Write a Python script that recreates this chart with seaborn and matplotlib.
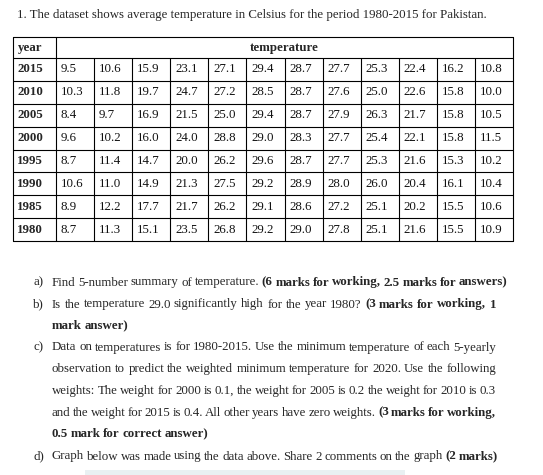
import matplotlib
matplotlib.use("Agg")
import matplotlib.pyplot as plt
import seaborn as sns
import numpy as np
import pandas as pd

years = [2015, 2010, 2005, 2000, 1995, 1990, 1985, 1980]
t2015 = [9.5, 10.6, 15.9, 23.1, 27.1, 29.4, 28.7, 27.7, 25.3, 22.4, 16.2, 10.8]
t2010 = [10.3, 11.8, 19.7, 24.7, 27.2, 28.5, 28.7, 27.6, 25.0, 22.6, 15.8, 10.0]
t2005 = [8.4, 9.7, 16.9, 21.5, 25.0, 29.4, 28.7, 27.9, 26.3, 21.7, 15.8, 10.5]
t2000 = [9.6, 10.2, 16.0, 24.0, 28.8, 29.0, 28.3, 27.7, 25.4, 22.1, 15.8, 11.5]
t1995 = [8.7, 11.4, 14.7, 20.0, 26.2, 29.6, 28.7, 27.7, 25.3, 21.6, 15.3, 10.2]
t1990 = [10.6, 11.0, 14.9, 21.3, 27.5, 29.2, 28.9, 28.0, 26.0, 20.4, 16.1, 10.4]
t1985 = [8.9, 12.2, 17.7, 21.7, 26.2, 29.1, 28.6, 27.2, 25.1, 20.2, 15.5, 10.6]
t1980 = [8.7, 11.3, 15.1, 23.5, 26.8, 29.2, 29.0, 27.8, 25.1, 21.6, 15.5, 10.9]

sns.set_theme(style="white")
plt.rcParams['font.family'] = ['Liberation Serif', 'DejaVu Serif']

W, H = 543, 475
fig = plt.figure(figsize=(W / 100, H / 100), dpi=100)
FS = 9.3

def fx(x): return x / W
def fy(y): return 1 - y / H

data = np.array([t2015, t2010, t2005, t2000, t1995, t1990, t1985, t1980])
df = pd.DataFrame(data, index=years)

tl, tr, tt, hb, tb, yc = 13, 513, 37, 58, 241, 56
ax = fig.add_axes([fx(yc), fy(tb), fx(tr - yc), (tb - hb) / H])
sns.heatmap(df, ax=ax, cmap=sns.color_palette(["white"]), cbar=False,
            linewidths=0, annot=False)
ax.set_xticks([]); ax.set_yticks([]); ax.set_xlabel(""); ax.set_ylabel("")
nr, nc = data.shape
for i in range(1, nr):
    ax.axhline(i, color="black", lw=0.8)
for j in range(1, nc):
    ax.axvline(j, color="black", lw=0.8)
for s in ax.spines.values():
    s.set_visible(False)
for i in range(nr):
    for j in range(nc):
        ax.text(j + 0.13, i + 0.5, f"{data[i, j]:.1f}", ha="left", va="center",
                fontsize=FS, color="#111")

lines = [
    ((tl, tr), (tt, tt)), ((tl, tr), (hb, hb)), ((tl, tl), (tt, tb)),
    ((tr, tr), (tt, tb)), ((yc, yc), (tt, tb)), ((tl, tr), (tb, tb)),
]
rh = (tb - hb) / len(years)
for k in range(1, len(years)):
    lines.append(((tl, yc), (hb + k * rh, hb + k * rh)))
for xs, ys in lines:
    fig.add_artist(plt.Line2D([fx(x) for x in xs], [fy(y) for y in ys],
                              color="black", lw=0.8))
fig.text(fx(tl + 5), fy((tt + hb) / 2), "year", fontsize=FS, weight="bold", va="center")
fig.text(fx((yc + tr) / 2), fy((tt + hb) / 2), "temperature", fontsize=FS,
         weight="bold", va="center", ha="center")
for k, yv in enumerate(years):
    fig.text(fx(tl + 4), fy(hb + (k + 0.5) * rh), str(yv), fontsize=FS,
             weight="bold", va="center")

fig.text(fx(17), fy(15), "1. The dataset shows average temperature in Celsius for the period 1980-2015 for Pakistan.",
         fontsize=FS, va="center")

renderer = fig.canvas.get_renderer()

def place_line(segs, x0, y, justify=False, right=496):
    words = []
    for s, b in segs:
        for w in s.split():
            words.append((w, b))
    arts = []
    for w, b in words:
        t = fig.text(0, fy(y + 3.5), w, fontsize=FS, weight="bold" if b else "normal",
                     va="baseline")
        arts.append((t, t.get_window_extent(renderer).width))
    sp = 2.6
    if justify and len(arts) > 1:
        tot = sum(wd for _, wd in arts)
        sp = (right - x0 - tot) / (len(arts) - 1)
    x = x0
    for t, wd in arts:
        t.set_x(fx(x))
        x += wd + sp

items = [
    ("a)", 282, [[("Find 5-number summary of temperature.", 0), ("(6 marks for working, 2.5 marks for answers)", 1)]], [False]),
    ("b)", 304, [[("Is the temperature 29.0 significantly high for the year 1980?", 0), ("(3 marks for working, 1", 1)],
                 [("mark answer)", 1)]], [True, False]),
    ("c)", 347, [[("Data on temperatures is for 1980-2015. Use the minimum temperature of each 5-yearly", 0)],
                 [("observation to predict the weighted minimum temperature for 2020. Use the following", 0)],
                 [("weights: The weight for 2000 is 0.1, the weight for 2005 is 0.2 the weight for 2010 is 0.3", 0)],
                 [("and the weight for 2015 is 0.4. All other years have zero weights.", 0), ("(3 marks for working,", 1)],
                 [("0.5 mark for correct answer)", 1)]], [True, True, True, True, False]),
    ("d)", 456, [[("Graph below was made using the data above. Share 2 comments on the graph", 0), ("(2 marks)", 1)]], [False]),
]
gap = 21.7
for lab, y0, lns, just in items:
    fig.text(fx(33), fy(y0 + 3.5), lab, fontsize=FS, va="baseline")
    for k, (segs, j) in enumerate(zip(lns, just)):
        place_line(segs, 52, y0 + k * gap, justify=j)

fig.add_artist(plt.Rectangle((fx(85), 0), fx(320), 5 / H, color="#e9f0f2", lw=0))

fig.savefig("out.png", dpi=100, facecolor="white")
